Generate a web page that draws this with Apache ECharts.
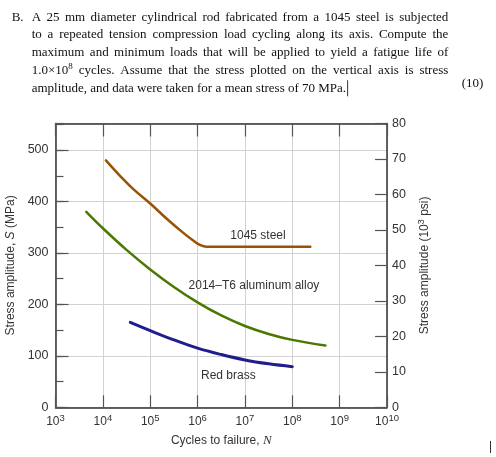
<!DOCTYPE html>
<html><head><meta charset="utf-8">
<script src="https://cdn.jsdelivr.net/npm/echarts@6/dist/echarts.min.js"></script>
<style>html,body{margin:0;padding:0;background:#fff}#c{width:496px;height:457px}</style>
</head><body><div id="c"></div>
<script>
// ---- data ----
const xExponents = [3, 4, 5, 6, 7, 8, 9, 10];
const leftTicks = [0, 100, 200, 300, 400, 500];
const rightTicks = [0, 10, 20, 30, 40, 50, 60, 70, 80];
const ksiToMPa = 6.894757;
const rightMax = 80;

const steelN = [1.16e4, 2.3e4, 4.4e4, 1e5, 2.2e5, 5e5, 8.1e5, 1.12e6, 1.56e6, 1e7, 1e8, 2.4e8];
const steelS = [480, 450, 424, 396, 367, 339, 324, 315.5, 312, 312, 312, 312];

const aluminumN = [4.47e3, 1e4, 3.16e4, 1e5, 3.16e5, 1e6, 3.16e6, 1e7, 3.16e7, 1e8, 5e8];
const aluminumS = [380, 348, 306, 268, 234, 204, 178.5, 158, 142.5, 131, 120];

const brassN = [3.8e4, 1e5, 3.16e5, 1e6, 3.16e6, 1e7, 3.16e7, 1e8];
const brassS = [165, 149, 131, 115, 102.5, 92, 84.5, 79];

const curveLabels = ['1045 steel', '2014\u2013T6 aluminum alloy', 'Red brass'];
const labelAt = [[1.89e7, 333], [1.55e7, 236], [4.47e6, 61]];

const paragraph = [
  'A 25 mm diameter cylindrical rod fabricated from a 1045 steel is subjected',
  'to a repeated tension compression load cycling along its axis. Compute the',
  'maximum and minimum loads that will be applied to yield a fatigue life of',
  '1.0\u00d710^8 cycles. Assume that the stress plotted on the vertical axis is stress',
  'amplitude, and data were taken for a mean stress of 70 MPa.'
];
const questionLabel = 'B.';
const marksLabel = '(10)';

// ---- layout helpers ----
const SANS = '"Liberation Sans", Arial, sans-serif';
const SERIF = '"Liberation Serif", "Times New Roman", serif';
const PF = 13;
const ctx = document.createElement('canvas').getContext('2d');
function w(s, size) { ctx.font = size + 'px "Liberation Serif"'; return ctx.measureText(s).width; }
function wordWidth(word) {
  if (word.indexOf('^') >= 0) { const p = word.split('^'); return w(p[0], PF) + w(p[1], 9); }
  return w(word, PF);
}
function wordEl(word, x, y) {
  if (word.indexOf('^') >= 0) {
    const p = word.split('^');
    return { type: 'text', x: x, y: y, silent: true, style: {
      text: '{n|' + p[0] + '}{s|' + p[1] + '}', verticalAlign: 'middle', align: 'left', fill: '#111',
      rich: { n: { fontSize: PF, fontFamily: SERIF, fill: '#111' },
              s: { fontSize: 9, fontFamily: SERIF, fill: '#111', padding: [0, 0, 7, 0] } } } };
  }
  return { type: 'text', x: x, y: y, silent: true, style: { text: word, fontSize: PF, fontFamily: SERIF, fill: '#111', verticalAlign: 'middle', align: 'left' } };
}
const graphics = [];
const pLeft = 31.7, pRight = 448.3, pTop = 17.3, pStep = 17.75;
paragraph.forEach((line, i) => {
  const words = line.split(' ');
  const y = pTop + i * pStep;
  const last = i === paragraph.length - 1;
  const total = words.reduce((a, wd) => a + wordWidth(wd), 0);
  const gap = last ? w(' ', PF) : (pRight - pLeft - total) / (words.length - 1);
  let x = pLeft;
  words.forEach(wd => { graphics.push(wordEl(wd, x, y)); x += wordWidth(wd) + gap; });
  if (last) {
    graphics.push({ type: 'line', silent: true, shape: { x1: x - gap + 1.5, y1: y - 8, x2: x - gap + 1.5, y2: y + 8 }, style: { stroke: '#333', lineWidth: 1 } });
  }
});
graphics.push({ type: 'text', x: 11.7, y: pTop, silent: true, style: { text: questionLabel, fontSize: PF, fontFamily: SERIF, fill: '#111', verticalAlign: 'middle' } });
graphics.push({ type: 'text', x: 461.7, y: 83.3, silent: true, style: { text: marksLabel, fontSize: PF, fontFamily: SERIF, fill: '#111', verticalAlign: 'middle' } });
graphics.push({ type: 'line', silent: true, shape: { x1: 490.5, y1: 441, x2: 490.5, y2: 453 }, style: { stroke: '#333', lineWidth: 1 } });

const yMax = rightMax * ksiToMPa;
const axisColor = '#333';
const gridColor = '#d2d2d2';

function makeSeries(name, N, S, color, width, labelText, coord) {
  return {
    name: name, type: 'line', xAxisIndex: 0, yAxisIndex: 0,
    data: N.map((n, i) => [n, S[i]]),
    showSymbol: false, symbol: 'none', smooth: 0.4, silent: true,
    lineStyle: { color: color, width: width, cap: 'round', join: 'round' },
    markPoint: {
      silent: true, symbol: 'rect', symbolSize: 1, itemStyle: { color: 'rgba(0,0,0,0)' },
      label: { show: true, position: 'inside', formatter: labelText, color: '#333', fontSize: 12, fontFamily: SANS },
      data: [{ coord: coord }]
    }
  };
}

const chart = echarts.init(document.getElementById('c'), null, { renderer: 'canvas' });
chart.setOption({
  animation: false,
  backgroundColor: '#fff',
  graphic: graphics,
  grid: { left: 55.5, right: 109, top: 123.5, bottom: 49.7, containLabel: false, outerBoundsMode: 'none' },
  xAxis: [
    {
      type: 'log', logBase: 10, min: Math.pow(10, xExponents[0]), max: Math.pow(10, xExponents[xExponents.length - 1]),
      interval: 1, position: 'bottom',
      axisLine: { show: true, onZero: false, lineStyle: { color: axisColor, width: 1.5 } },
      axisTick: { show: true, inside: true, length: 12, lineStyle: { color: '#555', width: 1.2 } },
      minorTick: { show: false },
      splitLine: { show: true, lineStyle: { color: gridColor, width: 1 } },
      axisLabel: {
        margin: 6, color: '#333',
        formatter: v => '{b|10}{s|' + Math.round(Math.log10(v)) + '}',
        rich: { b: { fontSize: 12, fontFamily: SANS, color: '#333' },
                s: { fontSize: 9.5, fontFamily: SANS, color: '#333', padding: [0, 0, 7, 0] } }
      },
      name: '{a|Cycles to failure, }{n|N}', nameLocation: 'middle', nameGap: 27,
      nameTextStyle: { rich: { a: { fontSize: 12, fontFamily: SANS, color: '#333' }, n: { fontSize: 13, fontFamily: SERIF, fontStyle: 'italic', color: '#333' } } }
    },
    {
      type: 'log', logBase: 10, min: Math.pow(10, xExponents[0]), max: Math.pow(10, xExponents[xExponents.length - 1]),
      interval: 1, position: 'top',
      axisLine: { show: true, onZero: false, lineStyle: { color: axisColor, width: 1.5 } },
      axisTick: { show: true, inside: true, length: 13, lineStyle: { color: '#555', width: 1.2 } },
      splitLine: { show: false }, axisLabel: { show: false }
    }
  ],
  yAxis: [
    {
      type: 'value', min: 0, max: yMax, interval: 100, position: 'left',
      axisLine: { show: true, onZero: false, lineStyle: { color: axisColor, width: 1.5 } },
      axisTick: { show: true, inside: true, length: 13, lineStyle: { color: '#555', width: 1.2 } },
      splitLine: { show: true, lineStyle: { color: gridColor, width: 1 } },
      axisLabel: { margin: 7, color: '#333', fontSize: 12.5, fontFamily: SANS, showMaxLabel: false,
        formatter: v => (leftTicks.indexOf(v) >= 0 ? String(v) : '') },
      name: '{a|Stress amplitude, }{s|S}{a| (MPa)}', nameLocation: 'middle', nameGap: 35, nameRotate: 90,
      nameTextStyle: { rich: { a: { fontSize: 12, fontFamily: SANS, color: '#333' }, s: { fontSize: 12, fontFamily: SANS, fontStyle: 'italic', color: '#333' } } }
    },
    {
      type: 'value', min: 0, max: rightMax, interval: 10, position: 'right',
      axisLine: { show: true, onZero: false, lineStyle: { color: axisColor, width: 1.5 } },
      axisTick: { show: true, inside: true, length: 12, lineStyle: { color: '#555', width: 1.2 } },
      splitLine: { show: false },
      axisLabel: { margin: 5, color: '#333', fontSize: 12.5, fontFamily: SANS,
        formatter: v => (rightTicks.indexOf(v) >= 0 ? String(v) : '') },
      name: '{a|Stress amplitude (10}{s|3}{a| psi)}', nameLocation: 'middle', nameGap: 29, nameRotate: 90,
      nameTextStyle: { rich: { a: { fontSize: 12, fontFamily: SANS, color: '#333' }, s: { fontSize: 9, fontFamily: SANS, color: '#333', padding: [0, 0, 7, 0] } } }
    },
    {
      type: 'value', min: 0, max: yMax, interval: 50, position: 'left',
      axisLine: { show: false, onZero: false },
      axisTick: { show: true, inside: true, length: 8, lineStyle: { color: '#555', width: 1.2 } },
      splitLine: { show: false }, axisLabel: { show: false }
    }
  ],
  series: [
    makeSeries('1045 steel', steelN, steelS, '#9a5206', 2.5, curveLabels[0], labelAt[0]),
    makeSeries('2014-T6', aluminumN, aluminumS, '#4a7800', 2.5, curveLabels[1], labelAt[1]),
    makeSeries('Red brass', brassN, brassS, '#1e1e8c', 3, curveLabels[2], labelAt[2])
  ]
});
</script></body></html>
